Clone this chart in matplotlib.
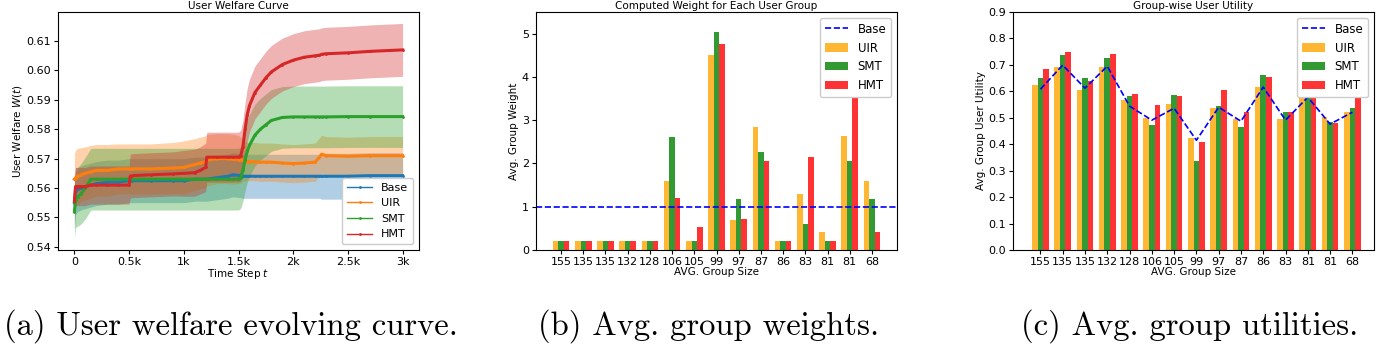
import matplotlib
matplotlib.use("Agg")
import matplotlib.pyplot as plt
import numpy as np

# ---- panel (a): user welfare curve ----
steps = [0, 10, 30, 60, 100, 150, 200, 300, 400, 500, 510, 530, 700, 900,
         1000, 1100, 1150, 1200, 1210, 1300, 1400, 1450, 1500, 1520, 1540,
         1560, 1580, 1600, 1650, 1700, 1750, 1800, 1900, 2000, 2100, 2200,
         2240, 2260, 2300, 2500, 2700, 3000]

base_mean = [0.555, 0.559, 0.5595, 0.560, 0.5605, 0.561, 0.5615, 0.562, 0.562,
             0.5625, 0.5625, 0.5625, 0.5625, 0.5625, 0.5625, 0.563, 0.563,
             0.563, 0.563, 0.5635, 0.564, 0.5645, 0.5643, 0.5642, 0.564, 0.564,
             0.564, 0.564, 0.564, 0.564, 0.564, 0.564, 0.564, 0.564, 0.564,
             0.564, 0.564, 0.564, 0.564, 0.564, 0.5642, 0.5642]
base_half = [0.009, 0.008, 0.0075, 0.0075, 0.0075, 0.0075, 0.0075, 0.0075,
             0.0075, 0.0075, 0.0075, 0.0075, 0.0075, 0.0075, 0.0075, 0.0075,
             0.0075, 0.0075, 0.0075, 0.0075, 0.0075, 0.0075, 0.0075, 0.0075,
             0.0075, 0.0075, 0.0075, 0.0075, 0.0075, 0.0075, 0.0075, 0.0075,
             0.0075, 0.0075, 0.0075, 0.0075, 0.0075, 0.0078, 0.0078, 0.0078,
             0.0078, 0.0078]

uir_mean = [0.563, 0.5635, 0.564, 0.5645, 0.565, 0.5655, 0.566, 0.566, 0.5665,
            0.5665, 0.5665, 0.5665, 0.5665, 0.5668, 0.567, 0.568, 0.5685,
            0.569, 0.5695, 0.570, 0.570, 0.5698, 0.5697, 0.5695, 0.5695,
            0.5693, 0.569, 0.569, 0.569, 0.5688, 0.5688, 0.5688, 0.5685,
            0.5683, 0.5685, 0.5688, 0.5705, 0.5715, 0.571, 0.5708, 0.571, 0.571]
uir_half = [0.0085, 0.0095, 0.0095, 0.0092, 0.009, 0.009, 0.0088, 0.0088,
            0.0085, 0.0085, 0.0085, 0.0085, 0.0085, 0.0087, 0.009, 0.0088,
            0.0088, 0.0088, 0.0088, 0.0085, 0.0085, 0.0085, 0.0082, 0.0078,
            0.0072, 0.0068, 0.0065, 0.0065, 0.0065, 0.0065, 0.0065, 0.0065,
            0.0065, 0.0065, 0.0065, 0.0065, 0.0065, 0.0065, 0.0065, 0.0065,
            0.0065, 0.0065]

smt_mean = [0.552, 0.556, 0.557, 0.558, 0.560, 0.563, 0.563, 0.563, 0.563,
            0.563, 0.563, 0.563, 0.563, 0.563, 0.563, 0.563, 0.563, 0.563,
            0.563, 0.563, 0.563, 0.563, 0.563, 0.5635, 0.566, 0.5695, 0.5725,
            0.5745, 0.578, 0.580, 0.5815, 0.583, 0.584, 0.5842, 0.5842, 0.5842,
            0.5842, 0.5842, 0.5842, 0.5843, 0.5843, 0.5843]
smt_half = [0.009, 0.0095, 0.0100, 0.0103, 0.0105, 0.0105, 0.0105, 0.0105,
            0.0105, 0.0105, 0.0105, 0.0105, 0.0105, 0.0105, 0.0105, 0.0105,
            0.0105, 0.0105, 0.0105, 0.0105, 0.0105, 0.0105, 0.0105, 0.0105,
            0.0105, 0.0105, 0.0105, 0.0105, 0.0105, 0.0105, 0.0105, 0.0105,
            0.0105, 0.0105, 0.0105, 0.0105, 0.0105, 0.0105, 0.0105, 0.0105,
            0.0105, 0.0105]

hmt_mean = [0.5555, 0.5605, 0.5605, 0.5605, 0.5605, 0.561, 0.561, 0.561, 0.561,
            0.561, 0.564, 0.5642, 0.5645, 0.5648, 0.565, 0.5652, 0.566, 0.567,
            0.5705, 0.5705, 0.5705, 0.5705, 0.5705, 0.571, 0.574, 0.580, 0.585,
            0.588, 0.5925, 0.595, 0.5975, 0.5995, 0.602, 0.6035, 0.6045, 0.605,
            0.6052, 0.6055, 0.6057, 0.606, 0.6065, 0.607]
hmt_half = [0.008, 0.0065, 0.0065, 0.0065, 0.0065, 0.0065, 0.0065, 0.0065,
            0.0065, 0.0065, 0.0075, 0.0075, 0.0075, 0.0075, 0.0078, 0.008,
            0.008, 0.0082, 0.0085, 0.0085, 0.0085, 0.0085, 0.0085, 0.0087,
            0.009, 0.009, 0.009, 0.009, 0.009, 0.009, 0.009, 0.009, 0.009,
            0.009, 0.009, 0.009, 0.009, 0.009, 0.009, 0.009, 0.009, 0.009]

# ---- panels (b) and (c): per group ----
group_sizes = ['155', '135', '135', '132', '128', '106', '105', '99', '97',
               '87', '86', '83', '81', '81', '68']

uir_weight = [0.2, 0.2, 0.2, 0.2, 0.2, 1.6, 0.2, 4.5, 0.7, 2.85, 0.2, 1.3,
              0.42, 2.63, 1.6]
smt_weight = [0.2, 0.2, 0.2, 0.2, 0.2, 2.6, 0.2, 5.03, 1.19, 2.27, 0.2, 0.6,
              0.2, 2.06, 1.19]
hmt_weight = [0.2, 0.2, 0.2, 0.2, 0.2, 1.2, 0.52, 4.75, 0.72, 2.06, 0.2, 2.15,
              0.2, 3.58, 0.42]
base_weight = 1.0

base_util = [0.608, 0.699, 0.612, 0.695, 0.544, 0.491, 0.536, 0.415, 0.540,
             0.487, 0.616, 0.491, 0.578, 0.476, 0.521]
uir_util = [0.623, 0.691, 0.604, 0.691, 0.566, 0.498, 0.551, 0.423, 0.536,
            0.495, 0.616, 0.495, 0.582, 0.502, 0.521]
smt_util = [0.650, 0.736, 0.650, 0.725, 0.582, 0.472, 0.585, 0.336, 0.544,
            0.465, 0.661, 0.521, 0.623, 0.483, 0.536]
hmt_util = [0.684, 0.748, 0.638, 0.740, 0.589, 0.548, 0.582, 0.408, 0.604,
            0.521, 0.653, 0.521, 0.623, 0.480, 0.582]

captions = ["(a) User welfare evolving curve.",
            "(b) Avg. group weights.",
            "(c) Avg. group utilities."]

W, H = 1377, 344
fig = plt.figure(figsize=(W / 100, H / 100), dpi=100)


def axes_px(left, top, right, bottom):
    return fig.add_axes([left / W, 1 - bottom / H, (right - left) / W,
                         (bottom - top) / H])


TICK = 8
LAB = 7.5

# (a)
ax1 = axes_px(58, 12, 419, 250)
t = np.array(steps)
series = [("Base", base_mean, base_half, "C0"),
          ("UIR", uir_mean, uir_half, "C1"),
          ("SMT", smt_mean, smt_half, "C2"),
          ("HMT", hmt_mean, hmt_half, "C3")]
for name, mean, half, col in series:
    m = np.array(mean)
    h = np.array(half)
    ax1.fill_between(t, m - h, m + h, color=col, alpha=0.35, linewidth=0)
for name, mean, half, col in series:
    ax1.plot(t, mean, color=col, lw=2.2, marker='.', markersize=2, label=name)
ax1.set_xlim(-150, 3150)
ax1.set_ylim(0.5389, 0.6199)
ax1.set_xticks([0, 500, 1000, 1500, 2000, 2500, 3000])
ax1.set_xticklabels(['0', '0.5k', '1k', '1.5k', '2k', '2.5k', '3k'])
ax1.set_yticks([0.54, 0.55, 0.56, 0.57, 0.58, 0.59, 0.60, 0.61])
ax1.tick_params(labelsize=TICK, length=3, pad=2)
ax1.set_title("User Welfare Curve", fontsize=LAB, pad=2)
ax1.set_xlabel("Time Step $t$", fontsize=LAB, labelpad=0)
ax1.set_ylabel("User Welfare $W(t)$", fontsize=LAB, labelpad=2)
leg = ax1.legend(loc='lower right', fontsize=8, handlelength=2.3,
                 labelspacing=0.5, borderpad=0.45, framealpha=1.0)
for hd in leg.legend_handles:
    hd.set_linewidth(1.0)

# bars
x = np.arange(len(group_sizes))
bw = 0.25
bar_kw = dict(width=bw, alpha=0.8)

ax2 = axes_px(536, 12, 897, 250)
ax2.axhline(base_weight, color='blue', ls='--', lw=1.2, label='Base')
ax2.bar(x - bw, uir_weight, color='orange', label='UIR', **bar_kw)
ax2.bar(x, smt_weight, color='green', label='SMT', **bar_kw)
ax2.bar(x + bw, hmt_weight, color='red', label='HMT', **bar_kw)
ax2.set_xlim(-1.13, 15.13)
ax2.set_ylim(0, 5.5)
ax2.set_xticks(x)
ax2.set_xticklabels(group_sizes)
ax2.set_yticks([0, 1, 2, 3, 4, 5])
ax2.tick_params(labelsize=TICK, length=3, pad=2)
ax2.set_title("Computed Weight for Each User Group", fontsize=LAB, pad=2)
ax2.set_xlabel("AVG. Group Size", fontsize=LAB, labelpad=0)
ax2.set_ylabel("Avg. Group Weight", fontsize=LAB, labelpad=2)
ax2.legend(loc='upper right', fontsize=8.5, framealpha=1.0,
           labelspacing=0.5)

ax3 = axes_px(1013, 12, 1374, 250)
ax3.plot(x, base_util, color='blue', ls='--', lw=1.2, label='Base')
ax3.bar(x - bw, uir_util, color='orange', label='UIR', **bar_kw)
ax3.bar(x, smt_util, color='green', label='SMT', **bar_kw)
ax3.bar(x + bw, hmt_util, color='red', label='HMT', **bar_kw)
ax3.set_xlim(-1.23, 14.97)
ax3.set_ylim(0, 0.9)
ax3.set_xticks(x)
ax3.set_xticklabels(group_sizes)
ax3.set_yticks(np.round(np.arange(0, 0.91, 0.1), 1))
ax3.tick_params(labelsize=TICK, length=3, pad=2)
ax3.set_title("Group-wise User Utility", fontsize=LAB, pad=2)
ax3.set_xlabel("AVG. Group Size", fontsize=LAB, labelpad=0)
ax3.set_ylabel("Avg. Group User Utility", fontsize=LAB, labelpad=2)
ax3.legend(loc='upper right', fontsize=8.5, framealpha=1.0,
           labelspacing=0.5)

# captions under each panel
for cx, txt in zip([231, 709, 1190], captions):
    fig.text(cx / W, 1 - 334.5 / H, txt, fontsize=23.5, family='cmr10',
             ha='center', va='baseline')

fig.savefig("out.png", dpi=100)
